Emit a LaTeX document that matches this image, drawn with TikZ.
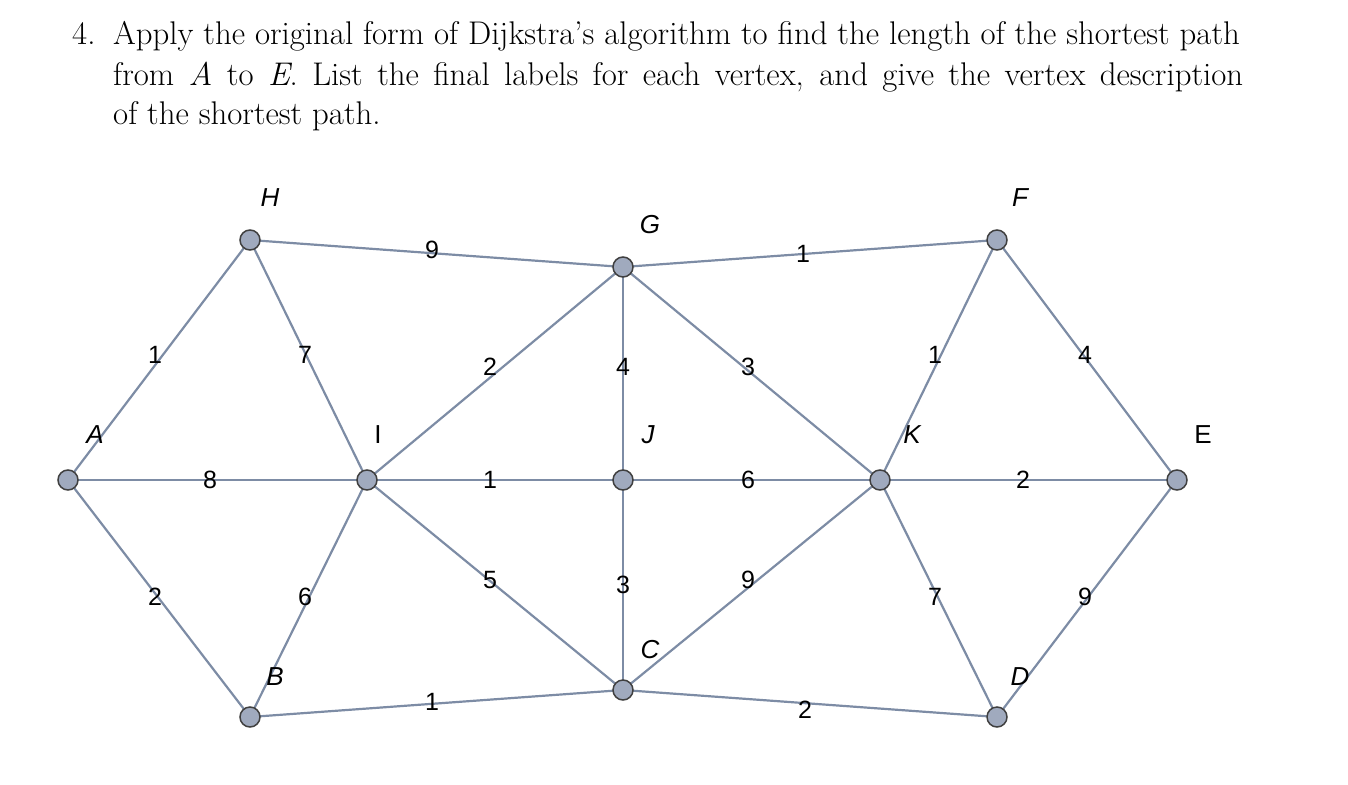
\documentclass[tikz,border=0pt]{standalone}
\usepackage{fontspec}
\newfontfamily\lab{Liberation Sans}
\begin{document}
\begin{tikzpicture}[x=1pt,y=-1pt,
  vtx/.style={circle,draw=black!75,line width=1.5pt,fill={rgb,255:red,160;green,170;blue,190},minimum size=20pt,inner sep=0pt},
  edge/.style={draw={rgb,255:red,125;green,140;blue,165},line width=2.2pt},
  el/.style={font=\lab\fontsize{25}{25}\selectfont,inner sep=0pt},
  vl/.style={font=\lab\fontsize{26}{26}\selectfont\itshape,inner sep=0pt},
  ttl/.style={anchor=base west,inner sep=0pt,font=\fontsize{32.8}{40}\selectfont}]
\useasboundingbox (0,0) rectangle (1348,784);
\node[ttl] (t1) at (72,45) {4.};
\node[ttl] (t2) at (113,45) {Apply the original form of Dijkstra's algorithm to find the length of the shortest path};
\node[ttl] (t3) at (113,85) {\makebox[1130pt][s]{from \textit{A} to \textit{E}. List the final labels for each vertex, and give the vertex description}};
\node[ttl] (t4) at (113,124) {of the shortest path.};
\coordinate (A) at (68,480); \coordinate (H) at (250,240); \coordinate (I) at (367,480);
\coordinate (G) at (623,267); \coordinate (J) at (623,480); \coordinate (C) at (623,690);
\coordinate (B) at (250,717); \coordinate (K) at (880,480); \coordinate (F) at (997,240);
\coordinate (E) at (1177,480); \coordinate (D) at (997,717);
\foreach \a/\b in {A/H,A/I,A/B,H/G,H/I,I/G,I/J,I/C,I/B,B/C,G/J,G/F,G/K,J/K,J/C,C/K,C/D,K/F,K/E,K/D,F/E,E/D}
  \draw[edge] (\a) -- (\b);
\foreach \n in {A,H,I,G,J,C,B,K,F,E,D} \node[vtx] (v\n) at (\n) {};
\node[el] (w1) at (432,250) {9};
\node[el] (w2) at (803,254) {1};
\node[el] (w3) at (155,355) {1};
\node[el] (w4) at (305,355) {7};
\node[el] (w5) at (490,367) {2};
\node[el] (w6) at (623,367) {4};
\node[el] (w7) at (748,367) {3};
\node[el] (w8) at (935,355) {1};
\node[el] (w9) at (1085,355) {4};
\node[el] (w10) at (210,480) {8};
\node[el] (w11) at (490,480) {1};
\node[el] (w12) at (748,480) {6};
\node[el] (w13) at (1023,480) {2};
\node[el] (w14) at (155,597) {2};
\node[el] (w15) at (305,597) {6};
\node[el] (w16) at (490,580) {5};
\node[el] (w17) at (623,585) {3};
\node[el] (w18) at (748,580) {9};
\node[el] (w19) at (935,597) {7};
\node[el] (w20) at (1085,597) {9};
\node[el] (w21) at (432,702) {1};
\node[el] (w22) at (805,710) {2};
\node[vl] (lH) at (270,198) {H};
\node[vl] (lG) at (650,225) {G};
\node[vl] (lF) at (1020,198) {F};
\node[vl] (lA) at (95,435) {A};
\node[vl,font=\lab\fontsize{26}{26}\selectfont] (lI) at (378,435) {I};
\node[vl] (lJ) at (648,435) {J};
\node[vl] (lK) at (912,435) {K};
\node[vl,font=\lab\fontsize{26}{26}\selectfont] (lE) at (1203,435) {E};
\node[vl] (lB) at (275,677) {B};
\node[vl] (lC) at (650,650) {C};
\node[vl] (lD) at (1020,677) {D};
\end{tikzpicture}
\end{document}
